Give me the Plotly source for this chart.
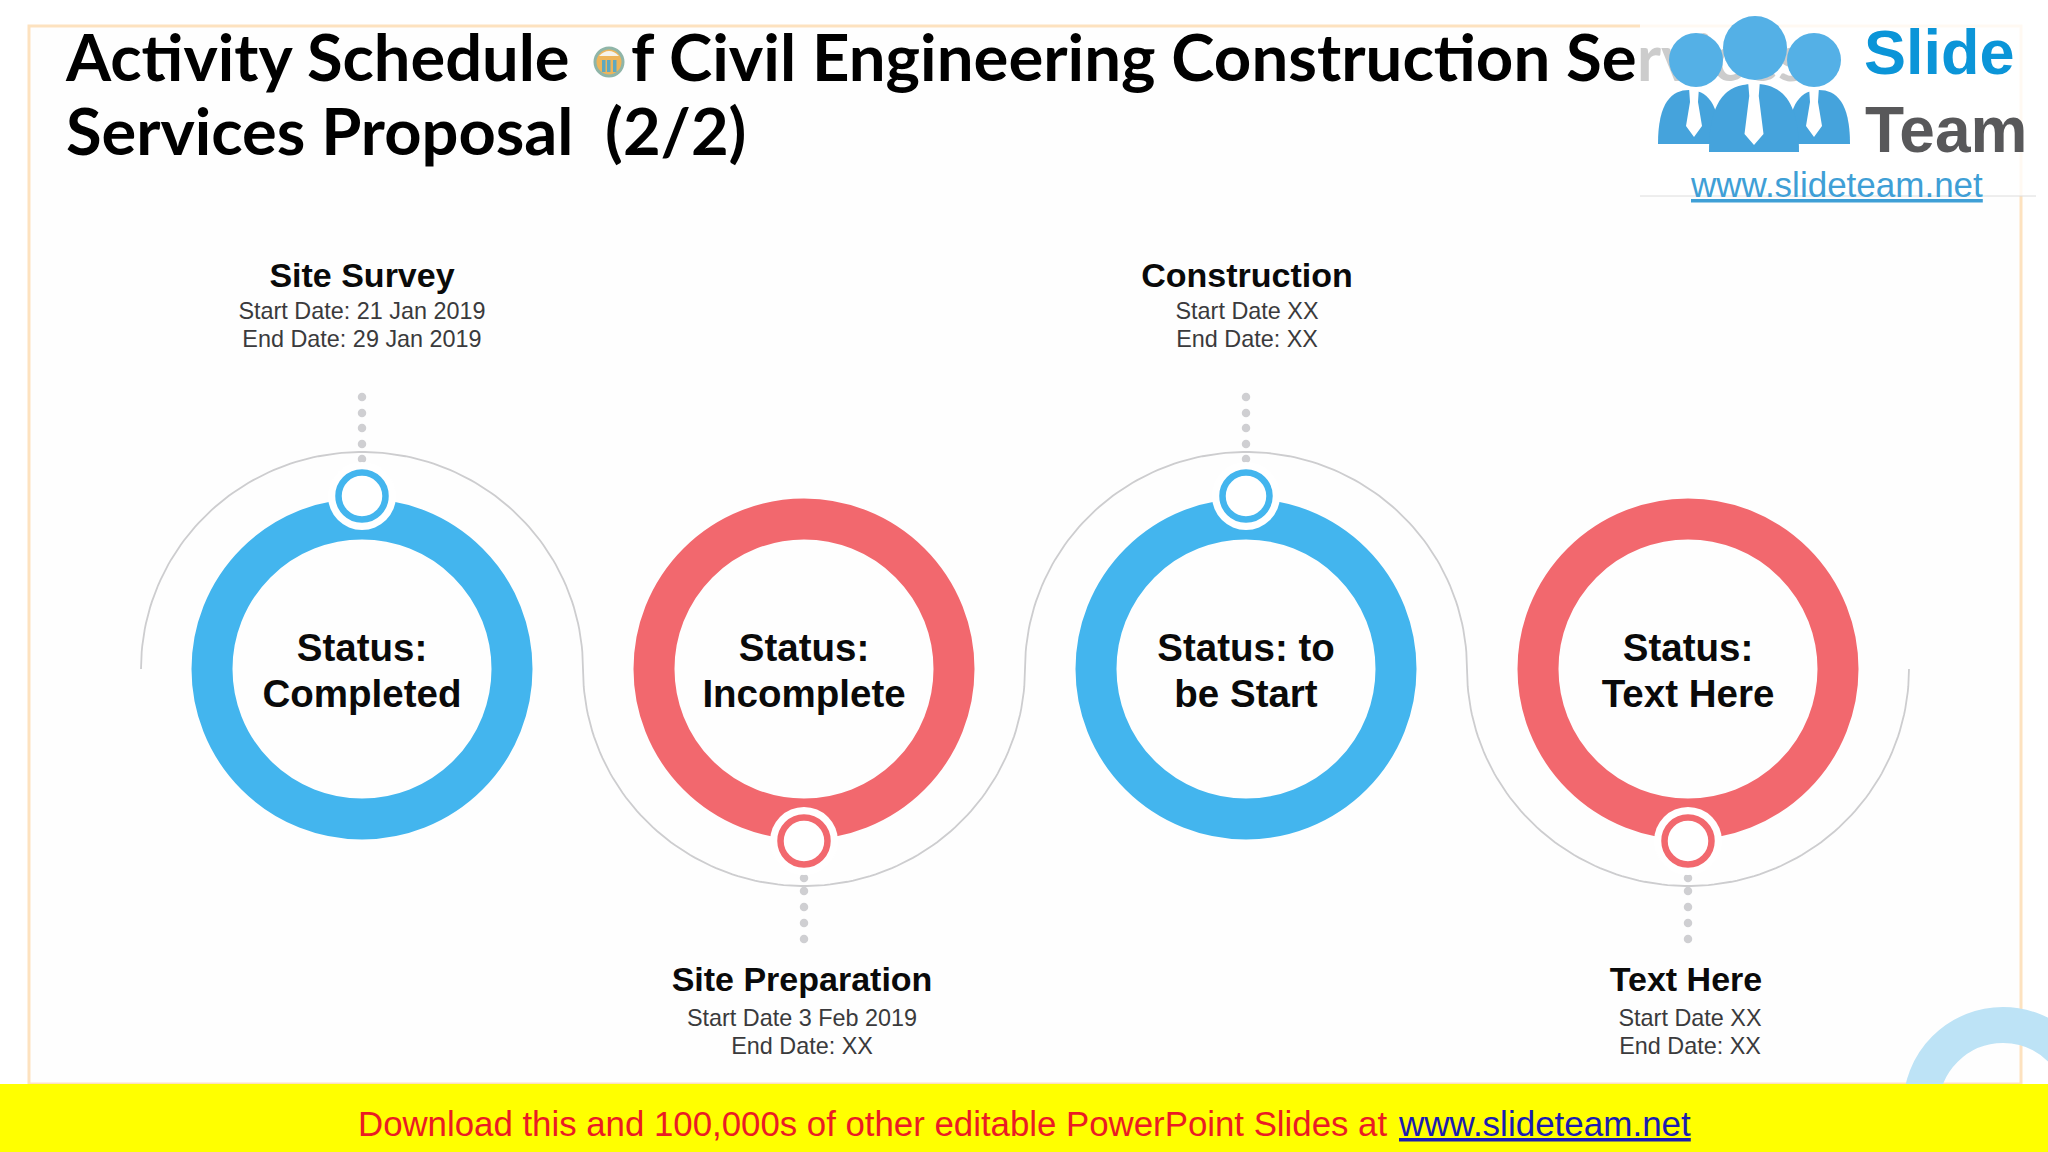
import numpy as np
import plotly.graph_objects as go

# slide content
steps = ["Site Survey", "Site Preparation", "Construction", "Text Here"]
start_dates = ["Start Date: 21 Jan 2019", "Start Date 3 Feb 2019", "Start Date XX", "Start Date XX"]
end_dates = ["End Date: 29 Jan 2019", "End Date: XX", "End Date: XX", "End Date: XX"]
status_top = ["Status:", "Status:", "Status: to", "Status:"]
status_bottom = ["Completed", "Incomplete", "be Start", "Text Here"]
ring_colors = ["#43b5ee", "#f2686e", "#43b5ee", "#f2686e"]
up = [True, False, True, False]

ring_x = [362, 804, 1246, 1688]
ring_y = 669
label_x = [362, 802, 1247, 1686]
sub_x = [362, 802, 1247, 1690]

fig = go.Figure()
shapes = []
GREY = "#cfcfd2"


def circle(cx, cy, r, fill="rgba(0,0,0,0)", line=None, width=0, layer="below"):
    return dict(type="circle", x0=cx - r, x1=cx + r, y0=cy - r, y1=cy + r, fillcolor=fill,
                line=dict(color=line or "rgba(0,0,0,0)", width=width), layer=layer)


def text(x, y, s, size, color, bold=False, font="Liberation Sans", pos="middle center"):
    fig.add_trace(go.Scatter(x=[x], y=[y], text=[s], mode="text", textposition=pos,
                             textfont=dict(family=font, size=size, color=color,
                                           weight="bold" if bold else "normal"),
                             hoverinfo="skip", showlegend=False))


# page frame
shapes.append(dict(type="rect", x0=29, x1=2021, y0=26, y1=1084, fillcolor="#fefefe",
                   line=dict(color="#fde2bf", width=3), layer="below"))
shapes.append(circle(2003, 1107, 82, line="#bde3f6", width=36))
shapes.append(dict(type="rect", x0=0, x1=2048, y0=1084, y1=1152, fillcolor="#ffff00",
                   line=dict(width=0), layer="below"))

# rings, connector dots and thin arcs
for i in range(4):
    cx = ring_x[i]
    shapes.append(circle(cx, ring_y, 150, line=ring_colors[i], width=41))
    t = np.linspace(np.pi, 0, 120) if up[i] else np.linspace(np.pi, 2 * np.pi, 120)
    fig.add_trace(go.Scatter(x=cx + 221 * np.cos(t), y=ring_y - 217 * np.sin(t), mode="lines",
                             line=dict(color="#cdcdcf", width=1.8), hoverinfo="skip", showlegend=False))
    dots = [397, 413, 428, 444, 459] if up[i] else [878, 891, 907, 923, 939]
    fig.add_trace(go.Scatter(x=[cx] * 5, y=dots, mode="markers", marker=dict(color=GREY, size=8.5),
                             hoverinfo="skip", showlegend=False))
    ny = 496 if up[i] else 841
    fig.add_trace(go.Scatter(x=[cx], y=[ny], mode="markers", hoverinfo="skip", showlegend=False,
                             marker=dict(color="#ffffff", size=68)))
    fig.add_trace(go.Scatter(x=[cx], y=[ny], mode="markers", hoverinfo="skip", showlegend=False,
                             marker=dict(color="#ffffff", size=47, line=dict(color=ring_colors[i], width=6.5))))
    text(cx, 651, status_top[i], 38.5, "#0a0a0a", bold=True)
    text(cx, 697, status_bottom[i], 38.5, "#0a0a0a", bold=True)
    head_y, s_y, e_y = (278, 313, 341) if up[i] else (982, 1020, 1048)
    text(label_x[i], head_y, steps[i], 34, "#0a0a0a", bold=True)
    text(sub_x[i], s_y, start_dates[i], 23.4, "#3a3a3c")
    text(sub_x[i], e_y, end_dates[i], 23.4, "#3a3a3c")

# title, the logo sits over the end of the first line
text(66, 65, "Activity Schedule", 65, "#000000", bold=True, font="Lato", pos="middle right")
text(631, 65, "f Civil Engineering Construction Services", 65.3, "#000000", bold=True, font="Lato",
     pos="middle right")
text(66, 139, "Services Proposal  (2/2)", 65, "#000000", bold=True, font="Lato", pos="middle right")

# little building badge that covers the "o"
shapes.append(circle(609, 62, 14, fill="#eeb55a", line="#8fb5a8", width=3, layer="above"))
shapes.append(dict(type="path", path="M 599 56 Q 609 46 619 56 Z", fillcolor="#f6f3ea", line=dict(width=0), layer="above"))
for bx in [602, 607, 613]:
    shapes.append(dict(type="rect", x0=bx, x1=bx + 3.5, y0=60, y1=72, fillcolor="#5fa8bf", line=dict(width=0), layer="above"))

# logo block
shapes.append(dict(type="rect", x0=1640, x1=2038, y0=0, y1=196, fillcolor="rgba(255,255,255,0.8)",
                   line=dict(width=0), layer="above"))
shapes.append(dict(type="line", x0=1640, x1=2036, y0=196, y1=196, line=dict(color="#dcdcdc", width=1), layer="above"))


def person(cx, top, bottom, half, tie_x, tie_w, head_x, head_y, head_r):
    body = (f"M {cx - half} {bottom} C {cx - half} {top + 12} {cx - half * 0.55} {top} {cx} {top} "
            f"C {cx + half * 0.55} {top} {cx + half} {top + 12} {cx + half} {bottom} Z")
    tie = (f"M {tie_x - tie_w * 0.6} {top} L {tie_x + tie_w * 0.6} {top} L {tie_x + tie_w * 0.5} {top + 12} "
           f"L {tie_x + tie_w} {bottom - 18} L {tie_x} {bottom - 7} L {tie_x - tie_w} {bottom - 18} "
           f"L {tie_x - tie_w * 0.5} {top + 12} Z")
    shapes.append(dict(type="path", path=body, fillcolor="#45a3dc", line=dict(width=0), layer="above"))
    shapes.append(dict(type="path", path=tie, fillcolor="#ffffff", line=dict(width=0), layer="above"))
    shapes.append(circle(head_x, head_y, head_r, fill="#54b0e6", layer="above"))


person(1689, 90, 144, 31, 1694, 8, 1696, 60, 27)
person(1819, 90, 144, 31, 1814, 8, 1814, 60, 27)
person(1754, 84, 152, 45, 1754, 9.5, 1755, 48, 32)
fig.add_annotation(x=1939, y=52, text="<b>Slide</b>", showarrow=False, font=dict(family="Liberation Sans", size=63, color="#0b95d8"))
fig.add_annotation(x=1946, y=130, text="<b>Team</b>", showarrow=False, font=dict(family="Liberation Sans", size=64, color="#58585a"))
fig.add_annotation(x=1836, y=184, text="<u>www.slideteam.net</u>", showarrow=False, font=dict(family="Liberation Sans", size=35, color="#3f9fd6"))

# download banner
fig.add_annotation(x=356, y=1123, xanchor="left", showarrow=False,
                   text="Download this and 100,000s of other editable PowerPoint Slides at",
                   font=dict(family="Liberation Sans", size=34.8, color="#ea1c24"))
fig.add_annotation(x=1396, y=1123, xanchor="left", showarrow=False, text="<u>www.slideteam.net</u>",
                   font=dict(family="Liberation Sans", size=35, color="#1c1cb0"))

fig.update_layout(width=2048, height=1152, margin=dict(l=0, r=0, t=0, b=0), shapes=shapes,
                  paper_bgcolor="#ffffff", plot_bgcolor="#ffffff", showlegend=False, hovermode=False,
                  xaxis=dict(range=[0, 2048], visible=False, fixedrange=True),
                  yaxis=dict(range=[1152, 0], visible=False, fixedrange=True))
fig.write_html("out.html", post_script="document.body.style.margin='0';",
               config=dict(displayModeBar=False))
